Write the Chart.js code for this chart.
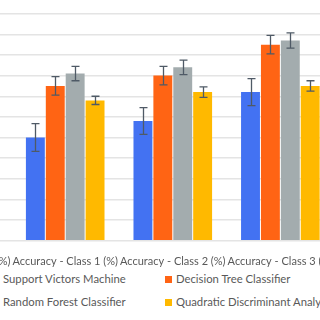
<!DOCTYPE html>
<html>
<head>
<meta charset="utf-8">
<script src="https://cdn.jsdelivr.net/npm/chart.js@4.4.0/dist/chart.umd.min.js"></script>
<style>
    html, body { margin: 0; padding: 0; width: 320px; height: 320px; overflow: hidden; background: #fff; }
    #wrap { position: relative; width: 320px; height: 320px; overflow: hidden; }
    #chart { position: absolute; left: -97px; top: -7px; }
    .legend { position: absolute; font-family: Lato, sans-serif; font-size: 11.3px; color: #595959; white-space: nowrap; }
    .legend .box { display: inline-block; width: 7px; height: 7px; margin-right: 4px; vertical-align: 0px; }
</style>
</head>
<body>
<div id="wrap">
    <canvas id="chart" width="432" height="277"></canvas>
</div>
<script>
// Categories (the first one is mostly cropped off in the reference)
const categories = ['Accuracy - Class 0 (%)', 'Accuracy - Class 1 (%)', 'Accuracy - Class 2 (%)', 'Accuracy - Class 3 (%)'];

const seriesNames = ['Support Victors Machine', 'Decision Tree Classifier', 'Random Forest Classifier', 'Quadratic Discriminant Analysis'];
const seriesColors = ['#4372f2', '#ff6414', '#a3acae', '#ffb900'];

// Values (%) and error sizes
const svmValues = [null, 50, 58, 72];
const dtValues = [null, 75, 80, 95];
const rfValues = [null, 81, 84, 97];
const qdaValues = [null, 68, 72, 75];

const svmErrors = [null, 6.7, 6.5, 6.5];
const dtErrors = [null, 4.5, 4.5, 4.5];
const rfErrors = [null, 3.5, 3.5, 3.7];
const qdaErrors = [null, 2.0, 2.5, 2.5];

const yTicks = { min: 0, max: 120, step: 10 };

const allValues = [svmValues, dtValues, rfValues, qdaValues];
const allErrors = [svmErrors, dtErrors, rfErrors, qdaErrors];

// Draws error bars using the chart's own scales
const errorBars = {
    id: 'errorBars',
    afterDatasetsDraw(chart) {
        const ctx = chart.ctx;
        const yScale = chart.scales.y;
        ctx.save();
        ctx.strokeStyle = '#4f5a66';
        ctx.lineWidth = 1.3;
        chart.data.datasets.forEach((ds, di) => {
            const meta = chart.getDatasetMeta(di);
            meta.data.forEach((bar, i) => {
                const v = ds.data[i];
                const e = ds.errors[i];
                if (v == null || e == null) return;
                const x = Math.round(bar.x) + 0.5;
                const top = yScale.getPixelForValue(v + e);
                const bot = yScale.getPixelForValue(v - e);
                ctx.beginPath();
                ctx.moveTo(x, top); ctx.lineTo(x, bot);
                ctx.moveTo(x - 4, top); ctx.lineTo(x + 4, top);
                ctx.moveTo(x - 4, bot); ctx.lineTo(x + 4, bot);
                ctx.stroke();
            });
        });
        ctx.restore();
    }
};

const chart = new Chart(document.getElementById('chart'), {
    type: 'bar',
    data: {
        labels: categories,
        datasets: seriesNames.map((name, i) => ({
            label: name,
            data: allValues[i],
            errors: allErrors[i],
            backgroundColor: seriesColors[i],
            borderWidth: 0,
            barPercentage: 0.95,
            categoryPercentage: 0.74
        }))
    },
    options: {
        responsive: false,
        animation: false,
        layout: { padding: 0 },
        plugins: {
            legend: { display: false },
            tooltip: { enabled: false }
        },
        scales: {
            x: {
                // invisible ticks only push the labels down
                grid: { display: true, color: 'rgba(0,0,0,0)', drawTicks: true, tickLength: 12 },
                border: { display: false },
                ticks: {
                    color: '#595959',
                    font: { family: 'Lato', size: 11 },
                    padding: 2,
                    maxRotation: 0,
                    autoSkip: false
                }
            },
            y: {
                min: yTicks.min,
                max: yTicks.max,
                afterFit(scale) { scale.width = 0; },
                grid: { color: '#e4e4e4', lineWidth: 1.5, drawTicks: false },
                border: { display: false },
                ticks: { display: false, stepSize: yTicks.step }
            }
        }
    },
    plugins: [errorBars]
});

// Two-column legend built from the datasets
const legendPos = [[-8, 272], [165, 272], [-8, 295], [165, 295]];
chart.data.datasets.forEach((ds, i) => {
    const item = document.createElement('div');
    item.className = 'legend';
    item.style.left = legendPos[i][0] + 'px';
    item.style.top = legendPos[i][1] + 'px';
    item.innerHTML = '<span class="box" style="background:' + ds.backgroundColor + '"></span>' + ds.label;
    document.getElementById('wrap').appendChild(item);
});
</script>
</body>
</html>
